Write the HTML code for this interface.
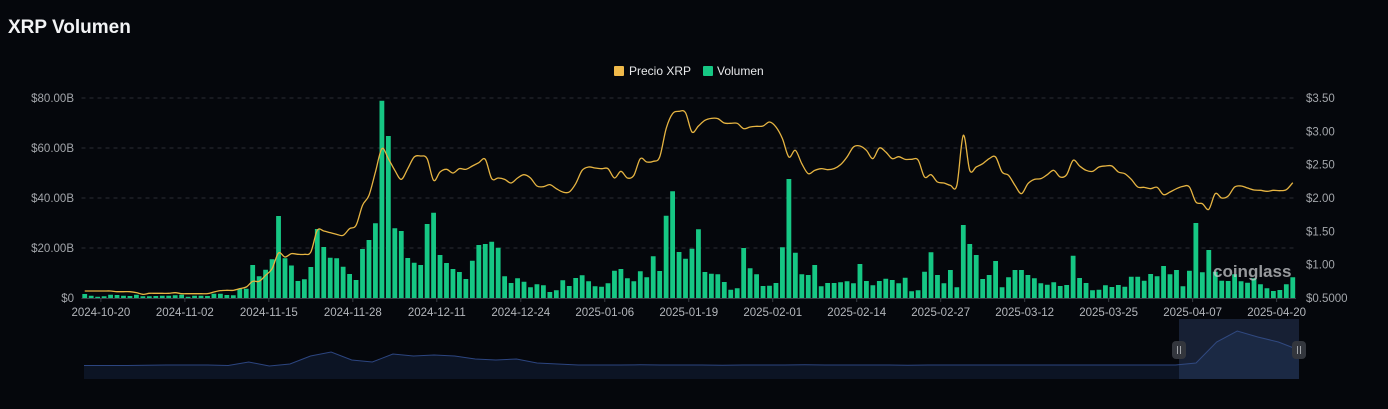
<!DOCTYPE html>
<html><head><meta charset="utf-8"><style>
body{margin:0;background:#05070c;width:1388px;height:404px;overflow:hidden;font-family:"Liberation Sans",sans-serif}
svg text{font-family:"Liberation Sans",sans-serif}
</style></head><body>
<svg id="c" width="1388" height="404" xmlns="http://www.w3.org/2000/svg">
<rect width="1388" height="404" fill="#05070c"/>
<text x="8" y="33" font-size="19" font-weight="bold" fill="#f2f3f5">XRP Volumen</text>
<g>
<g><rect x="614" y="66" width="10" height="10" rx="1" fill="#f0b94a"/><text x="629" y="75" font-size="12" fill="#e8e9eb">Precio XRP</text></g>
<g><rect x="703" y="66" width="10" height="10" rx="1" fill="#16c784"/><text x="717" y="75" font-size="12" fill="#e8e9eb">Volumen</text></g>
</g>
<g id="grid"></g><g id="bars"></g><g id="line"></g><g id="axes"></g>
<text x="1213" y="277" font-size="17" font-weight="bold" fill="#c8cacd" opacity="0.75">coinglass</text>
<g id="nav"></g>
</svg>
<script>
const volumes=[1.6,0.9,0.5,0.7,1.3,1.2,0.9,0.8,1.3,0.7,0.7,0.8,0.9,0.9,1.1,1.3,0.5,0.9,0.9,0.8,1.7,1.7,1.2,1.1,3.6,3.7,13.2,8.7,11.3,15.5,32.8,15.9,13,6.8,7.5,12.4,27.6,20.4,16.1,15.9,12.5,9.6,7.2,19.6,23.2,29.9,78.9,64.8,27.9,26.8,16,14.1,13.2,29.6,34.1,17.2,14,11.6,10.4,7.6,14.9,21.2,21.6,22.5,20.1,8.7,6,7.9,6.5,4.3,5.5,5.1,2.4,3.1,7.1,4.8,8,9.1,6.7,4.7,4.5,5.9,10.9,11.6,7.9,6.7,10.7,8.3,16.7,10.8,32.9,42.7,18.4,15.7,19.7,27.5,10.4,9.7,9.5,6.4,3.3,3.9,20,11.9,9.5,4.8,4.9,6,20.3,47.6,18.1,9.5,9.2,13.2,4.7,6,6,6.3,6.7,5.9,13.6,6.8,5.1,6.8,7.7,7.2,5.9,8.1,2.7,3.1,10.5,18.3,9.2,5.9,11.2,4.3,29.2,21.6,17.2,7.6,9.2,14.8,4.3,8.3,11.2,11.2,9.2,7.9,5.9,5.3,6.3,4.8,5.2,16.9,8,6,3.1,3.3,5.1,4.4,5.2,4.5,8.5,8.5,6.9,9.6,8.7,12.8,9.5,11.2,4.7,10.9,30,10.3,19.2,10.5,6.9,6.8,9.5,6.7,6.1,7.9,5.5,3.9,2.8,3.2,5.5,8.3];
const prices=[0.605,0.605,0.605,0.605,0.605,0.595,0.595,0.595,0.58,0.555,0.57,0.57,0.57,0.57,0.58,0.565,0.565,0.565,0.565,0.565,0.59,0.61,0.615,0.615,0.64,0.665,0.75,0.75,0.84,0.94,1.175,1.115,1.165,1.155,1.155,1.19,1.515,1.505,1.48,1.455,1.44,1.54,1.59,1.89,2.04,2.39,2.74,2.59,2.415,2.28,2.44,2.615,2.63,2.59,2.265,2.39,2.43,2.375,2.44,2.43,2.48,2.53,2.58,2.29,2.3,2.28,2.225,2.3,2.35,2.3,2.18,2.17,2.2,2.14,2.09,2.09,2.215,2.415,2.465,2.45,2.44,2.44,2.3,2.4,2.3,2.34,2.59,2.54,2.55,2.615,3.04,3.265,3.3,3.28,2.99,3.08,3.165,3.195,3.19,3.125,3.12,3.12,3.04,3.065,3.075,3.08,3.14,3.065,2.89,2.615,2.715,2.515,2.365,2.415,2.44,2.425,2.44,2.5,2.615,2.765,2.78,2.715,2.59,2.75,2.69,2.59,2.62,2.58,2.58,2.57,2.315,2.35,2.24,2.225,2.19,2.19,2.94,2.415,2.465,2.515,2.59,2.615,2.39,2.34,2.19,2.065,2.215,2.28,2.29,2.35,2.415,2.315,2.35,2.565,2.48,2.415,2.4,2.465,2.48,2.48,2.39,2.365,2.28,2.165,2.16,2.14,2.16,2.05,2.09,2.14,2.175,2.165,1.94,1.915,1.83,2.065,2,2.03,2.165,2.18,2.15,2.12,2.115,2.1,2.115,2.11,2.125,2.23];
const volTicks=[0,20,40,60,80];
const volTickLabels=["$0","$20.00B","$40.00B","$60.00B","$80.00B"];
const priceTicks=[0.5,1,1.5,2,2.5,3,3.5];
const priceTickLabels=["$0.5000","$1.00","$1.50","$2.00","$2.50","$3.00","$3.50"];
const dateLabels=["2024-10-20","2024-11-02","2024-11-15","2024-11-28","2024-12-11","2024-12-24","2025-01-06","2025-01-19","2025-02-01","2025-02-14","2025-02-27","2025-03-12","2025-03-25","2025-04-07","2025-04-20"];
const dateLabelIndex=[3,16,29,42,55,68,81,94,107,120,133,146,159,172,185];
const navLevels=[0.5,0.5,0.5,0.8,1,1,1,0.5,4,0,2,10,14,6,4,12,10,11,10,7,6,7,3,2,1,1,1,1.2,1,1,1,0.8,1,1,1,1.2,1,1,1,1,0.8,1,1,1,1,1,1,1,1,1,1,1,1,1,3,24,35,29,24,16];

const NS="http://www.w3.org/2000/svg";
function mk(tag,attrs,parent){const e=document.createElementNS(NS,tag);for(const k in attrs)e.setAttribute(k,attrs[k]);parent.appendChild(e);return e;}
const X0=81.5,X1=1296,BAND=(X1-X0)/volumes.length;
const Y0=298,Y1=98;
const xBand=i=>X0+i*BAND;
const xC=i=>X0+(i+0.5)*BAND;
const yVol=v=>Y0-(v/80)*(Y0-Y1);
const yPrice=p=>Y0-((p-0.5)/3)*(Y0-Y1);
const grid=document.getElementById('grid'),bars=document.getElementById('bars'),line=document.getElementById('line'),axes=document.getElementById('axes'),nav=document.getElementById('nav');

volTicks.forEach((v,i)=>{
  const y=yVol(v);
  if(v>0){const g=mk('line',{x1:X0,x2:X1,y1:y,y2:y,stroke:'#2a2d34','stroke-dasharray':'4,4','stroke-width':1},grid);
  
  }
  const t=mk('text',{x:74,y:y+4,'text-anchor':'end','font-size':11.5,fill:'#a3a6ab'},axes);t.textContent=volTickLabels[i];
  
  
});
priceTicks.forEach((p,i)=>{
  const t=mk('text',{x:1306,y:yPrice(p)+4,'font-size':11.5,fill:'#a3a6ab'},axes);t.textContent=priceTickLabels[i];
  
  
});
const ax=mk('line',{x1:X0,x2:X1,y1:Y0+0.5,y2:Y0+0.5,stroke:'#3a3d44'},axes);


dateLabels.forEach((d,i)=>{
  const x=xBand(dateLabelIndex[i]);
  const tk=mk('line',{x1:x,x2:x,y1:Y0,y2:Y0+4,stroke:'#3a3d44'},axes);
  
  
  const t=mk('text',{x:x,y:316,'text-anchor':'middle','font-size':11.5,fill:'#b3b6bb'},axes);t.textContent=d;
  
  
});
volumes.forEach((v,i)=>{
  const y=yVol(v);
  const r=mk('rect',{x:xC(i)-2.4,y:y,width:4.8,height:Math.max(Y0-y,0.5),fill:'#16c784'},bars);
  
  
});
function smooth(pts){let d='M'+pts[0][0]+','+pts[0][1];
  for(let i=0;i<pts.length-1;i++){const p0=pts[i-1]||pts[i],p1=pts[i],p2=pts[i+1],p3=pts[i+2]||p2;
    d+=' C'+(p1[0]+(p2[0]-p0[0])/6)+','+(p1[1]+(p2[1]-p0[1])/6)+' '+(p2[0]-(p3[0]-p1[0])/6)+','+(p2[1]-(p3[1]-p1[1])/6)+' '+p2[0]+','+p2[1];}
  return d;}
const pl=mk('path',{d:smooth(prices.map((p,i)=>[xC(i),yPrice(p)])),fill:'none',stroke:'#e6b442','stroke-width':1.3},line);



// navigator
const NX0=84,NX1=1299,NB=379,NBASE=366;
const nbg=mk('rect',{x:NX0,y:328,width:NX1-NX0,height:NB-328,fill:'#05070c'},nav);


const npts=navLevels.map((v,i)=>[NX0+i*(NX1-NX0)/(navLevels.length-1),NBASE-v]);
let nd='M'+npts.map(p=>p[0]+','+p[1]).join(' L');
const na=mk('path',{d:nd+' L'+NX1+','+NB+' L'+NX0+','+NB+' Z',fill:'#0c1424'},nav);


const nl=mk('path',{d:nd,fill:'none',stroke:'#2c4580','stroke-width':1},nav);


const sel=mk('rect',{x:1179,y:319,width:120,height:60,fill:'#3a5080',opacity:0.35},nav);


[1179,1299].forEach(x=>{
  const h=mk('g',{},nav);
  
  
  mk('rect',{x:x-7,y:341,width:14,height:18,rx:4,fill:'#33363d'},h);
  mk('line',{x1:x-1.5,x2:x-1.5,y1:346,y2:354,stroke:'#a0a3a8'},h);
  mk('line',{x1:x+1.5,x2:x+1.5,y1:346,y2:354,stroke:'#a0a3a8'},h);
});
</script>
</body></html>
